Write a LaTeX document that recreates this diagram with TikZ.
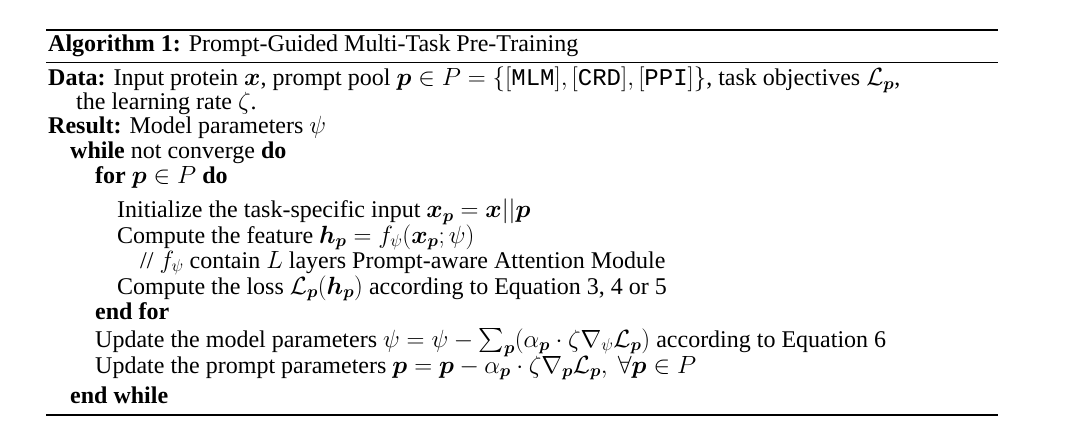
\documentclass[tikz,border=0pt]{standalone}
\usepackage{amsmath,amssymb,bm}
\usepackage{fontspec}
\setmainfont{Liberation Serif}
\setmonofont{Liberation Mono}
\begin{document}
\begin{tikzpicture}[x=1pt,y=-1pt,
  ln/.style={anchor=base west,inner sep=0pt,font=\fontsize{24}{28}\selectfont}]
\useasboundingbox (0,0) rectangle (1085,441);
\draw[line width=1.6pt] (46,30) -- (998,30);
\draw[line width=0.8pt] (46,62) -- (998,62);
\draw[line width=1.6pt] (46,415) -- (998,415);
\node[ln] (t) at (48,52) {\textbf{Algorithm 1:} Prompt-Guided Multi-Task Pre-Training};
\node[ln] (d) at (48,86) {\textbf{Data:} Input protein $\bm{x}$, prompt pool $\bm{p}\in P=\{[\texttt{MLM}],[\texttt{CRD}],[\texttt{PPI}]\}$, task objectives $\mathcal{L}_{\bm{p}}$,};
\node[ln] (d2) at (76,110) {the learning rate $\zeta$.};
\node[ln] (r) at (48,134) {\textbf{Result:} Model parameters $\psi$};
\node[ln] (w) at (70,159) {\textbf{while} not converge \textbf{do}};
\node[ln] (f) at (95,184) {\textbf{for} $\bm{p}\in P$ \textbf{do}};
\node[ln] (i) at (117,218) {Initialize the task-specific input $\bm{x}_{\bm{p}}=\bm{x}||\bm{p}$};
\node[ln] (c) at (117,243) {Compute the feature $\bm{h}_{\bm{p}}=f_\psi(\bm{x}_{\bm{p}};\psi)$};
\node[ln] (cm) at (140,268) {// $f_\psi$ contain $L$ layers Prompt-aware Attention Module};
\node[ln] (l) at (117,294) {Compute the loss $\mathcal{L}_{\bm{p}}(\bm{h}_{\bm{p}})$ according to Equation 3, 4 or 5};
\node[ln] (ef) at (95,319) {\textbf{end for}};
\node[ln] (u1) at (95,347) {Update the model parameters $\psi=\psi-\sum_{\bm{p}}(\alpha_{\bm{p}}\cdot\zeta\nabla_{\psi}\mathcal{L}_{\bm{p}})$ according to Equation 6};
\node[ln] (u2) at (95,373) {Update the prompt parameters $\bm{p}=\bm{p}-\alpha_{\bm{p}}\cdot\zeta\nabla_{\bm{p}}\mathcal{L}_{\bm{p}},\ \forall\bm{p}\in P$};
\node[ln] (ew) at (70,403) {\textbf{end while}};
\end{tikzpicture}
\end{document}
